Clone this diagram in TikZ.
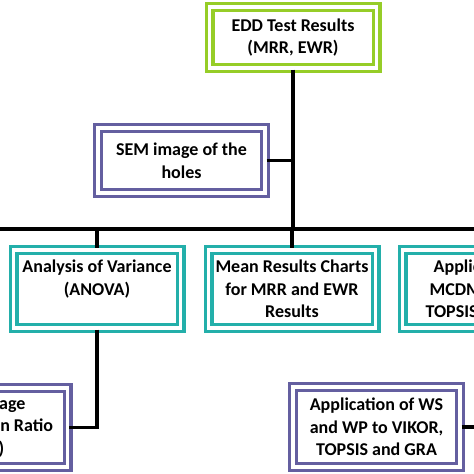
\documentclass[tikz,border=0pt]{standalone}
\usepackage{fontspec}
\setmainfont{Carlito}
\usetikzlibrary{calc}
\definecolor{limegr}{RGB}{150,205,40}
\definecolor{lilac}{RGB}{100,95,160}
\definecolor{teal2}{RGB}{35,175,170}
\tikzstyle{dbox} = [draw, double, double distance=3.4pt, line width=3.3pt, fill=white, inner sep=0pt, align=center, font=\fontsize{18}{22.5}\selectfont\bfseries, minimum width=167pt]
\tikzstyle{greenbox} = [dbox, draw=limegr, minimum height=61pt]
\tikzstyle{purplebox} = [dbox, draw=lilac]
\tikzstyle{tealbox} = [dbox, draw=teal2, minimum height=78pt]
\tikzstyle{line} = [line width=3.8pt, black]

\begin{document}
\begin{tikzpicture}[x=1pt, y=-1pt]
        \useasboundingbox (0,0) rectangle (474,474);
        \clip (0,0) rectangle (474,474);

        \node at (293,37.5) [greenbox](top) {EDD Test Results\\(MRR, EWR)};
        \node at (181.5,160.5) [purplebox, minimum height=65pt](sem) {SEM image of the\\holes};

        \node at (97,289) [tealbox](anova) {Analysis of Variance\\(ANOVA)\\~};
        \node at (292,289) [tealbox](mean) {Mean Results Charts\\for MRR and EWR\\Results};
        \node at (486,289) [tealbox](mcdm) {Application of\\MCDM: VIKOR,\\TOPSIS and GRA};

        \node at (-16,427.5) [purplebox, minimum height=79pt](pcr) {Percentage\\Contribution Ratio\\(PCR)};
        \node at (376.5,427) [purplebox, minimum height=80pt](ws) {Application of WS\\and WP to VIKOR,\\TOPSIS and GRA};

        \coordinate (busL) at (-20,229);
        \coordinate (busR) at (500,229);

        \draw[line] (top.south) -- (top.south |- busL);
        \draw[line] (sem.east) -- (sem.east -| top.south);
        \draw[line] (busL) -- (busR);
        \draw[line] (anova.north |- busL) -- (anova.north);
        \draw[line] (mean.north |- busL) -- (mean.north);
        \draw[line] (mcdm.north |- busL) -- (mcdm.north);
        \draw[line] (anova.south) |- (pcr.east);
        \draw[line] (ws.east) -| (mcdm.south);

\end{tikzpicture}
\end{document}
